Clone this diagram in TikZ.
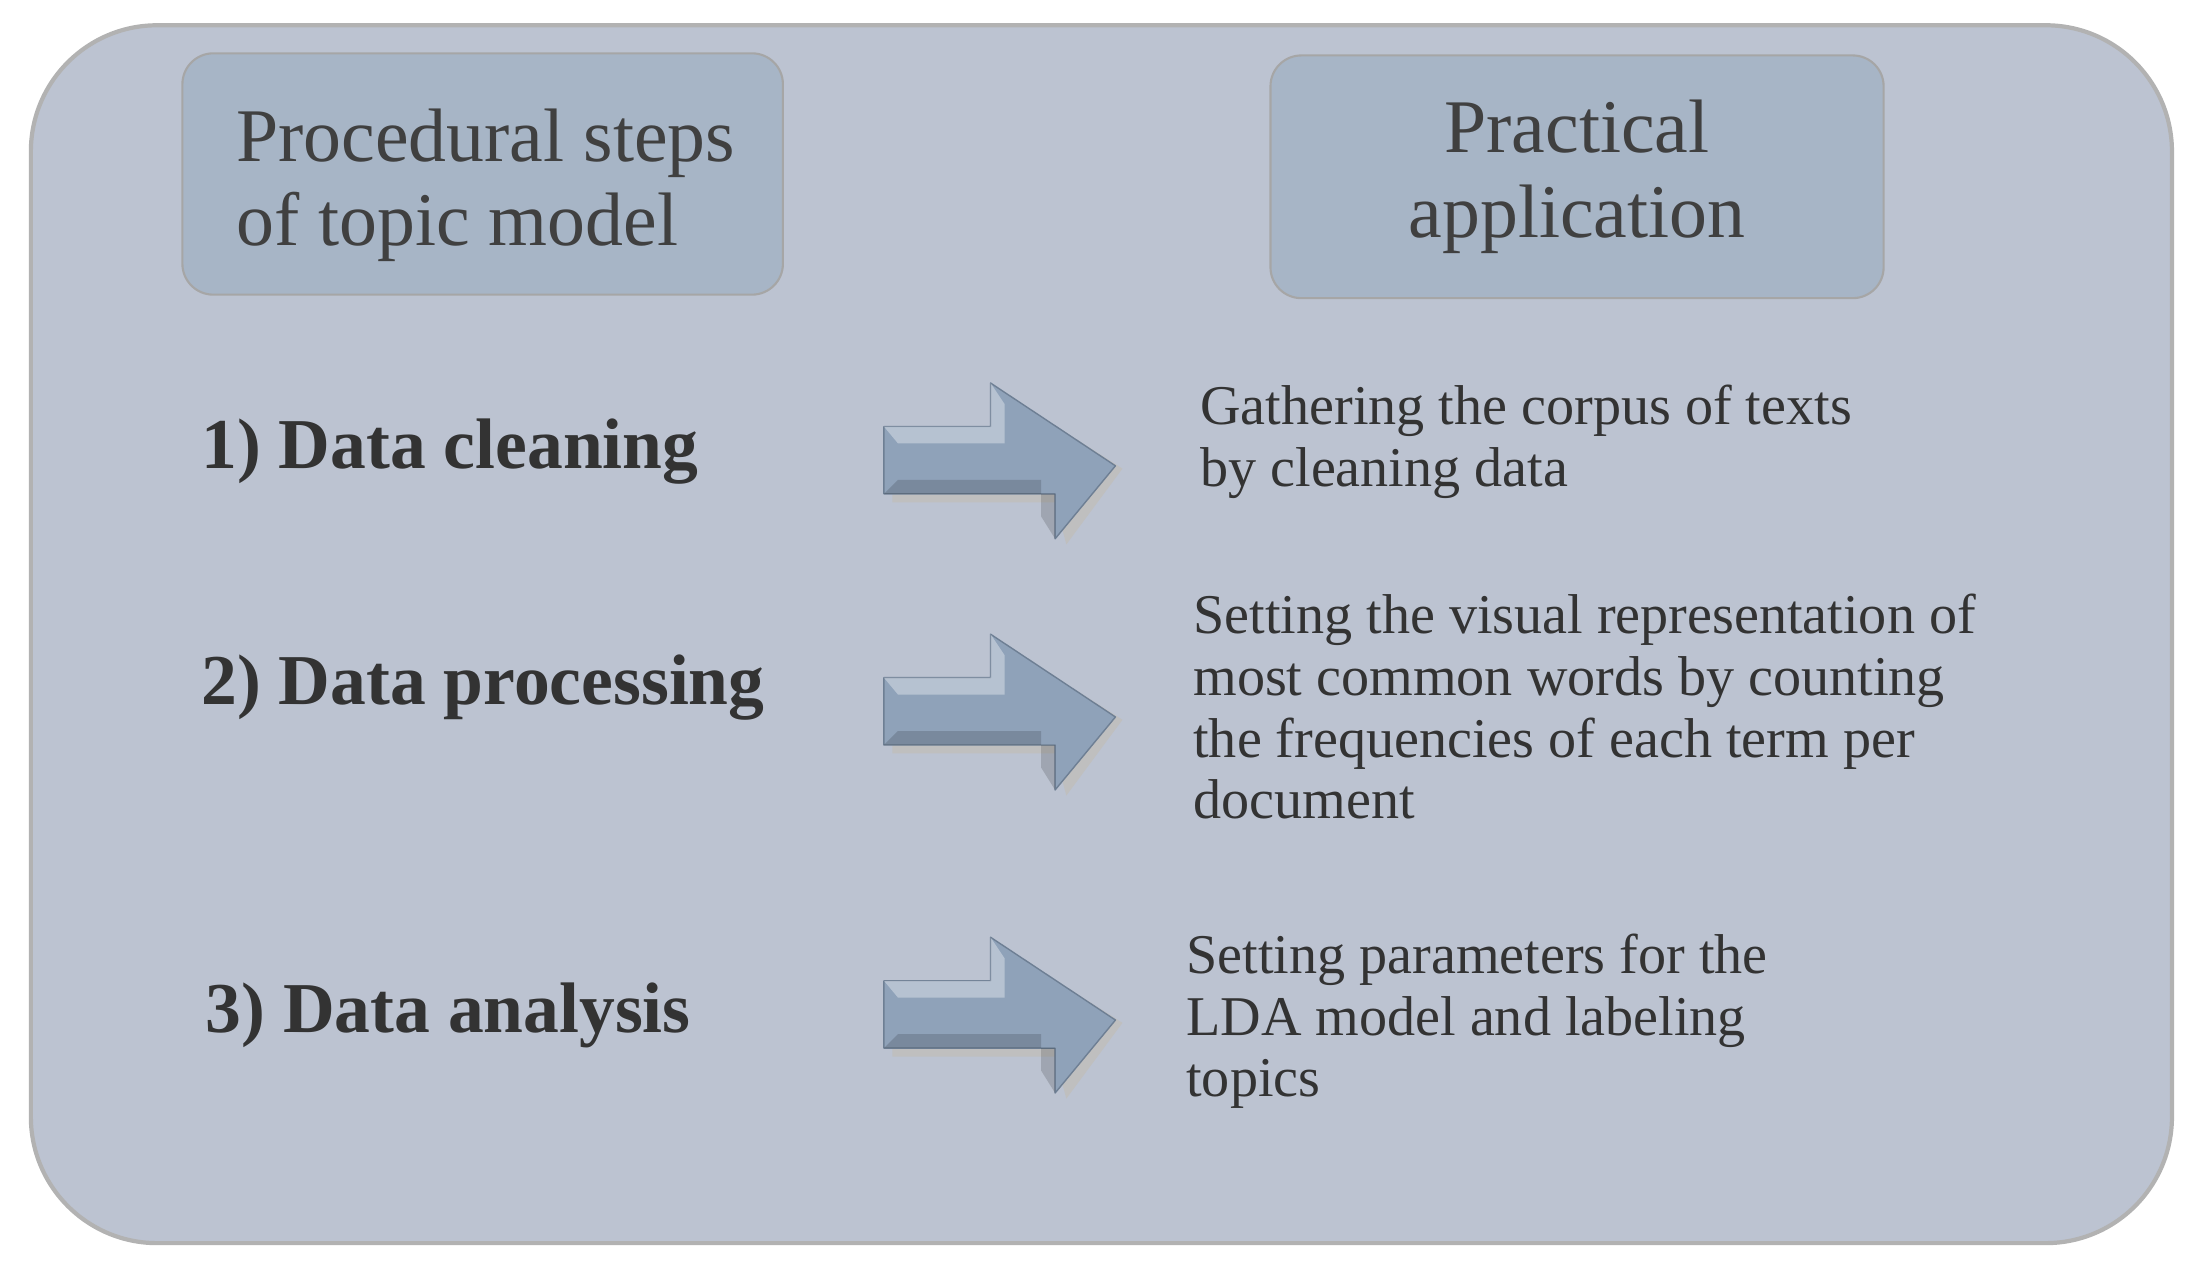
\documentclass[tikz,border=0pt]{standalone}
\usepackage{fontspec}
\setmainfont{Liberation Serif}
\begin{document}
\begin{tikzpicture}[x=1pt,y=-1pt,
 hdr/.style={draw=gray!70,line width=1.5pt,rounded corners=22pt,fill=hdrc,font=\fontsize{54}{60}\selectfont,text=black!75},
 stp/.style={anchor=west,font=\fontsize{51}{56}\selectfont\bfseries,text=black!80},
 desc/.style={anchor=north west,align=left,font=\fontsize{40}{44}\selectfont,text=black!80},
 arr/.style={fill=arrc,draw=arrd,line width=1pt,line join=round}]
\definecolor{bg}{HTML}{BCC3D1}\definecolor{hdrc}{HTML}{A7B5C6}
\definecolor{arrc}{HTML}{8FA2B9}\definecolor{arrd}{HTML}{6E7F94}
\useasboundingbox (0,0) rectangle (1568,906);
\draw[line width=3pt,draw=gray!60,fill=bg,rounded corners=90pt] (22,18) rectangle (1548,886);
\draw[hdr] (130,38) rectangle (558,210);
\node[anchor=west,align=left,font=\fontsize{54}{60}\selectfont,text=black!75] (h1) at (165,132) {Procedural steps\\of topic model};
\node[hdr,minimum width=437pt,minimum height=173pt,align=center] (h2) at (1124,126) {Practical\\application};
\node[stp] (s1) at (140,322) {1) Data cleaning};
\node[stp] (s2) at (140,490) {2) Data processing};
\node[stp] (s3) at (143,724) {3) Data analysis};
\foreach \n/\y in {a1/328,a2/507,a3/723}{
 \begin{scope}[shift={(0,\y)}]
 \fill[gray!50] (636,-18) -- (712,-18) -- (712,-50) -- (800,6) -- (760,60) -- (752,30) -- (636,30) -- cycle;
 \draw[arr] (630,-24) -- (706,-24) -- (706,-55) -- (795,4) -- (752,56) -- (752,24) -- (630,24) -- cycle;
 \fill[white,opacity=.35] (630,-24) -- (706,-24) -- (706,-55) -- (716,-40) -- (716,-12) -- (640,-12) -- cycle;
 \fill[black,opacity=.15] (630,24) -- (752,24) -- (752,56) -- (742,40) -- (742,14) -- (640,14) -- cycle;
 \coordinate (\n) at (712,0);
 \end{scope}}
\node[desc] (d1) at (852,271) {Gathering the corpus of texts\\by cleaning data};
\node[desc] (d2) at (847,420) {Setting the visual representation of\\most common words by counting\\the frequencies of each term per\\document};
\node[desc] (d3) at (842,662) {Setting parameters for the\\LDA model and labeling\\topics};
\end{tikzpicture}
\end{document}
